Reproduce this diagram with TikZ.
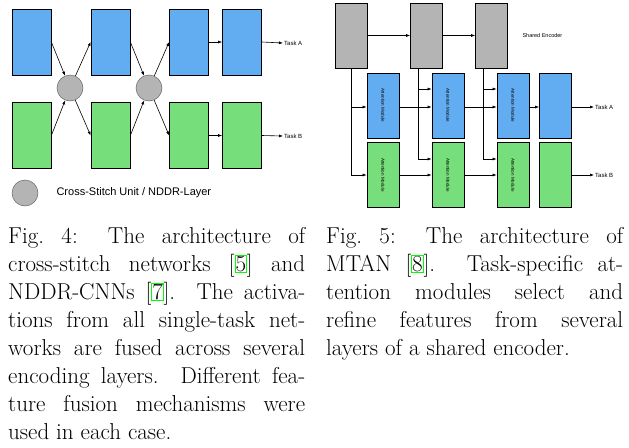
\documentclass[tikz,border=0pt]{standalone}
\usepackage{fontspec}
\setmainfont{Latin Modern Roman}
\newfontfamily\dsans{Liberation Sans}
\usetikzlibrary{arrows.meta}
\definecolor{bl}{HTML}{62ADF2}
\definecolor{gr}{HTML}{76DE7A}
\definecolor{gy}{HTML}{B4B4B4}
\newcommand{\mycite}[1]{[{\setlength\fboxsep{0pt}\setlength\fboxrule{0.8pt}\textcolor{green}{\fbox{\textcolor{black}{#1}}}}]}
\begin{document}
\begin{tikzpicture}[x=1pt,y=-1pt,
  box/.style={draw=black,line width=0.7pt,minimum width=39pt,minimum height=66pt,inner sep=0pt},
  rbox/.style={draw=black,line width=0.7pt,minimum width=32pt,minimum height=65pt,inner sep=0pt,font=\dsans\fontsize{4.5}{5}\selectfont},
  cs/.style={circle,draw=black!60,line width=0.5pt,fill=gy,minimum size=26pt,inner sep=0pt},
  ar/.style={-{Latex[length=4pt,width=3pt]},line width=0.6pt},
  ln/.style={line width=0.6pt},
  lbl/.style={font=\dsans\fontsize{6}{7}\selectfont,anchor=west,inner sep=1pt},
  captxt/.style={anchor=north west,text width=297pt,align=justify,inner sep=0pt,font=\fontsize{23}{28}\selectfont}]
\useasboundingbox (0,0) rectangle (629,447);
% left diagram
\node[box,fill=bl] (a1) at (31.5,42) {};
\node[box,fill=bl] (a2) at (110.5,42) {};
\node[box,fill=bl] (a3) at (189,42) {};
\node[box,fill=bl] (a4) at (242,42) {};
\node[box,fill=gr] (b1) at (31.5,135.5) {};
\node[box,fill=gr] (b2) at (110.5,135.5) {};
\node[box,fill=gr] (b3) at (189,135.5) {};
\node[box,fill=gr] (b4) at (242,135.5) {};
\node[cs] (c1) at (70,88) {};
\node[cs] (c2) at (149,88) {};
\draw[ar] (a1.east) -- (c1);
\draw[ar] (b1.east) -- (c1);
\draw[ar] (c1) -- (a2.west);
\draw[ar] (c1) -- (b2.west);
\draw[ar] (a2.east) -- (c2);
\draw[ar] (b2.east) -- (c2);
\draw[ar] (c2) -- (a3.west);
\draw[ar] (c2) -- (b3.west);
\draw[ar] (a3.east) -- (a4.west);
\draw[ar] (b3.east) -- (b4.west);
\node[lbl] (ta) at (283,43) {Task A};
\node[lbl] (tb) at (283,136) {Task B};
\draw[ar] (a4.east) -- (ta.west);
\draw[ar] (b4.east) -- (tb.west);
\node[cs] (lg) at (25,193) {};
\node[anchor=west,font=\dsans\fontsize{11}{13}\selectfont] (lgt) at (53,193) {Cross-Stitch Unit / NDDR-Layer};
% right diagram
\node[rbox,fill=gy] (g1) at (351,35.5) {};
\node[rbox,fill=gy] (g2) at (426.5,35.5) {};
\node[rbox,fill=gy] (g3) at (491.5,35.5) {};
\node[font=\dsans\fontsize{5.5}{6}\selectfont,anchor=west] (se) at (519,36) {Shared Encoder};
\draw[ar] (g1.east) -- (g2.west);
\draw[ar] (g2.east) -- (g3.west);
\foreach \i/\x in {1/383,2/448,3/513}{
  \node[rbox,fill=bl] (m\i) at (\x,105.5) {\rotatebox{-90}{Attention Module}};
  \node[rbox,fill=gr] (n\i) at (\x,175) {\rotatebox{-90}{Attention Module}};
}
\node[rbox,fill=bl] (m4) at (555.5,105.5) {};
\node[rbox,fill=gr] (n4) at (555.5,174.5) {};
\coordinate (v1) at (351,175);
\coordinate (v2) at (418,159);
\coordinate (v3) at (483,159);
\draw[ln] (g1.south) -- (v1);
\draw[ln] (g2.south -| v2) -- (v2);
\draw[ln] (g3.south -| v3) -- (v3);
\draw[ar] (351,107) -- (m1.west |- 0,107);
\draw[ar] (v1) -- (n1.west |- v1);
\draw[ar] (418,89) -- (m2.west |- 0,89);
\draw[ar] (v2) -- (n2.west |- v2);
\draw[ar] (483,89) -- (m3.west |- 0,89);
\draw[ar] (v3) -- (n3.west |- v3);
\draw[ar] (m1.east |- 0,107) -- (m2.west |- 0,107);
\draw[ar] (m2.east |- 0,107) -- (m3.west |- 0,107);
\draw[ar] (m3.east |- 0,107) -- (m4.west |- 0,107);
\draw[ar] (n1.east |- v1) -- (n2.west |- v1);
\draw[ar] (n2.east |- v1) -- (n3.west |- v1);
\node[lbl] (ra) at (594,107) {Task A};
\node[lbl] (rb) at (594,175) {Task B};
\draw[ar] (m4.east |- 0,107) -- (ra.west);
\draw[ar] (n4.east |- v1) -- (rb.west);
% captions
\node[captxt] (cl) at (8,227) {Fig.~4: The architecture of\linebreak cross-stitch networks \mycite{5} and\linebreak NDDR-CNNs \mycite{7}. The activa-\linebreak tions from all single-task net-\linebreak works are fused across several\linebreak encoding layers. Different fea-\linebreak ture fusion mechanisms were\linebreak used in each case.};
\node[captxt] (cr) at (326,227) {Fig.~5: The architecture of\linebreak MTAN \mycite{8}. Task-specific at-\linebreak tention modules select and\linebreak refine features from several\linebreak layers of a shared encoder.};
\end{tikzpicture}
\end{document}
